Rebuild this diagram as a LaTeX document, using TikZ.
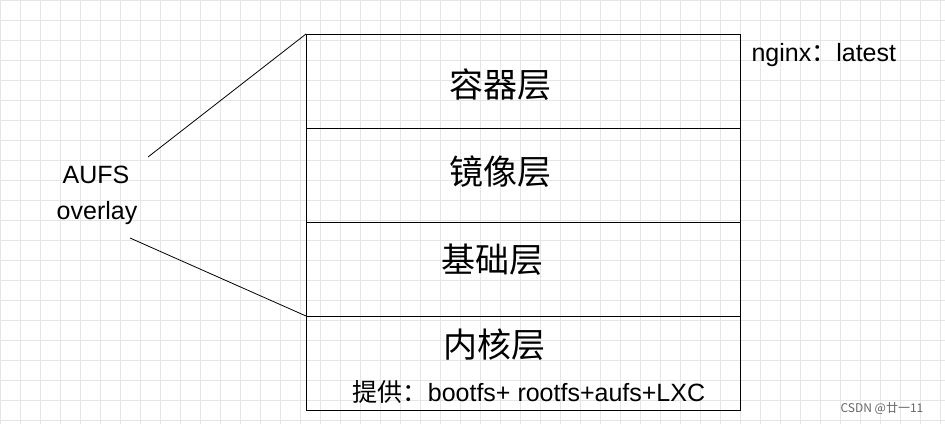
\documentclass[tikz,border=0pt]{standalone}
\usepackage{fontspec}
\setmainfont{Liberation Sans}
\newfontfamily\cjk{Noto Sans CJK SC}
\begin{document}
\begin{tikzpicture}[x=1pt,y=-1pt,
  layer/.style={draw=black,line width=1.2pt,minimum width=434pt,minimum height=94pt,inner sep=0pt,anchor=north west},
  big/.style={font=\cjk\fontsize{34}{38}\selectfont},
  mid/.style={font=\fontsize{25}{29}\selectfont}]
\useasboundingbox (0,0) rectangle (945,424);
\fill[white] (0,0) rectangle (945,424);
\foreach \i in {0,20,...,940} \draw[black!10,line width=0.5pt] (\i,0) -- (\i,424);
\foreach \j in {0,20,...,420} \draw[black!10,line width=0.5pt] (0,\j) -- (945,\j);
\node[layer] (c) at (306,34) {};
\node[layer] (m) at (306,128) {};
\node[layer] (b) at (306,222) {};
\node[layer] (k) at (306,316) {};
\node[big] (ct) at (500,85) {容器层};
\node[big] (mt) at (500,172) {镜像层};
\node[big] (bt) at (492,260) {基础层};
\node[big] (kt) at (494,345) {内核层};
\node[mid] (pt) at (529,392) {{\cjk 提供：}bootfs+ rootfs+aufs+LXC};
\node[mid,anchor=west] (ng) at (748,55) {nginx{\cjk ：}latest};
\node[mid] (au) at (96,175) {AUFS};
\node[mid] (ov) at (97,213) {overlay};
\coordinate (a1) at (148,157);
\coordinate (a2) at (130,238);
\draw[line width=0.8pt] (a1) -- (c.north west);
\draw[line width=0.8pt] (a2) -- (k.north west);
\node[font=\cjk\fontsize{12}{14}\selectfont,text=black!60] (wm) at (882,409) {CSDN @廿一11};
\end{tikzpicture}
\end{document}
